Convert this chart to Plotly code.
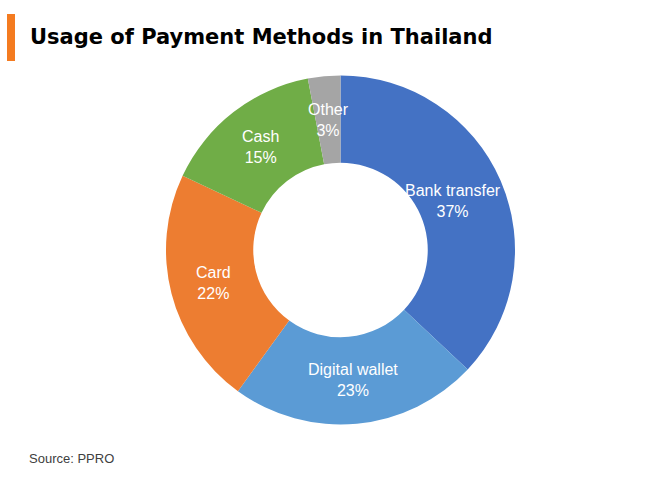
import math
import plotly.graph_objects as go

categories = ["Bank transfer", "Digital wallet", "Card", "Cash", "Other"]
values = [37, 23, 22, 15, 3]
colors = ["#4472C4", "#5B9BD5", "#ED7D31", "#70AD47", "#A5A5A5"]
label_radius = [0.70, 0.75, 0.75, 0.75, 0.75]

W, H = 645, 477
cx, cy, R = 340.5, 250, 174.5

fig = go.Figure(go.Pie(
    labels=categories, values=values, sort=False, direction="clockwise",
    rotation=0, hole=0.5, textinfo="none", hoverinfo="label+percent",
    marker=dict(colors=colors, line=dict(width=0)),
    domain=dict(x=[(cx - R) / W, (cx + R) / W], y=[1 - (cy + R) / H, 1 - (cy - R) / H]),
    showlegend=False,
))

annotations = []
total = sum(values)
cum = 0
for cat, v, lr in zip(categories, values, label_radius):
    mid = cum + v / 2
    cum += v
    ang = math.radians(90 - 360 * mid / total)
    r = lr * R
    px = cx + r * math.cos(ang)
    py = cy - r * math.sin(ang)
    annotations.append(dict(
        x=px / W, y=1 - py / H, xref="paper", yref="paper", showarrow=False,
        text=f"{cat}<br>{round(100 * v / total)}%",
        font=dict(family="Liberation Sans, Arial", size=16, color="white"),
        xanchor="center", yanchor="middle", align="center",
    ))

annotations.append(dict(
    x=28 / W, y=1 - 37 / H, xref="paper", yref="paper", showarrow=False,
    text="<b>Usage of Payment Methods in Thailand</b>",
    font=dict(family="DejaVu Sans, Verdana", size=21, color="black"),
    xanchor="left", yanchor="middle",
))
annotations.append(dict(
    x=27 / W, y=1 - 458 / H, xref="paper", yref="paper", showarrow=False,
    text="Source: PPRO",
    font=dict(family="Liberation Sans, Arial", size=13, color="#404040"),
    xanchor="left", yanchor="middle",
))

fig.update_layout(
    width=W, height=H, margin=dict(l=0, r=0, t=0, b=0),
    paper_bgcolor="white", plot_bgcolor="white",
    annotations=annotations,
    shapes=[dict(type="rect", xref="paper", yref="paper",
                 x0=7 / W, x1=15 / W, y0=1 - 61 / H, y1=1 - 14 / H,
                 fillcolor="#F47B20", line=dict(width=0))],
)

fig.write_html("out.html", config={"displayModeBar": False},
               post_script="document.body.style.margin='0';")
